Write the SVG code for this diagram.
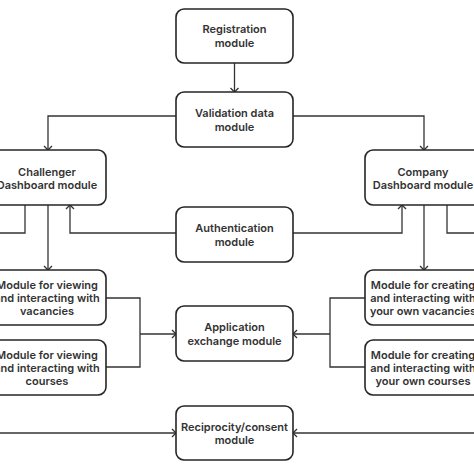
<svg xmlns="http://www.w3.org/2000/svg" width="474" height="474" viewBox="0 0 474 474">
<style>
.box{fill:#fff;stroke:#262626;stroke-width:1.6}
.t{font-family:Inter,"Noto Sans",sans-serif;font-weight:600;font-size:11px;fill:#333;text-anchor:middle}
.c{fill:none;stroke:#333;stroke-width:1.3}
</style>
<defs>
<marker id="ah" markerUnits="userSpaceOnUse" markerWidth="12" markerHeight="12" refX="10" refY="6" orient="auto">
<path d="M6,2 L10,6 L6,10" fill="none" stroke="#333" stroke-width="1.3"/>
</marker>
</defs>
<rect width="474" height="474" fill="#fff"/>
<g id="connectors">
<path class="c" d="M234.5,63 V92" marker-end="url(#ah)"/>
<path class="c" d="M176,116 H48 V150" marker-end="url(#ah)"/>
<path class="c" d="M293,116 H424 V150" marker-end="url(#ah)"/>
<path class="c" d="M176,233 H70 V205" marker-end="url(#ah)"/>
<path class="c" d="M293,233 H402 V205" marker-end="url(#ah)"/>
<path class="c" d="M25,205 V233 H-2"/>
<path class="c" d="M447,205 V233 H476"/>
<path class="c" d="M48,205 V270" marker-end="url(#ah)"/>
<path class="c" d="M424,205 V270" marker-end="url(#ah)"/>
<path class="c" d="M106,298 H140 V367 H106"/>
<path class="c" d="M140,334 H176" marker-end="url(#ah)"/>
<path class="c" d="M365,298 H330 V367 H365"/>
<path class="c" d="M330,334 H293" marker-end="url(#ah)"/>
<path class="c" d="M-2,433 H176" marker-end="url(#ah)"/>
<path class="c" d="M476,433 H293" marker-end="url(#ah)"/>
</g>
<g id="registration"><rect class="box" x="176" y="9" width="117" height="54" rx="8"/><text class="t" x="234.5" y="33">Registration</text><text class="t" x="234.5" y="47">module</text></g>
<g id="validation"><rect class="box" x="176" y="92" width="117" height="55" rx="8"/><text class="t" x="234.5" y="117">Validation data</text><text class="t" x="234.5" y="131">module</text></g>
<g id="challenger"><rect class="box" x="-12" y="150" width="118" height="55" rx="8"/><text class="t" x="47" y="176">Challenger</text><text class="t" x="47" y="189">Dashboard module</text></g>
<g id="company"><rect class="box" x="365" y="150" width="116" height="55" rx="8"/><text class="t" x="423" y="176">Company</text><text class="t" x="423" y="189">Dashboard module</text></g>
<g id="authentication"><rect class="box" x="176" y="207" width="117" height="55" rx="8"/><text class="t" x="234.5" y="232">Authentication</text><text class="t" x="234.5" y="246">module</text></g>
<g id="viewing-vacancies"><rect class="box" x="-12" y="270" width="118" height="55" rx="8"/><text class="t" x="47" y="289">Module for viewing</text><text class="t" x="47" y="302">and interacting with</text><text class="t" x="47" y="315">vacancies</text></g>
<g id="viewing-courses"><rect class="box" x="-12" y="340" width="118" height="55" rx="8"/><text class="t" x="47" y="359">Module for viewing</text><text class="t" x="47" y="372">and interacting with</text><text class="t" x="47" y="385">courses</text></g>
<g id="application"><rect class="box" x="176" y="306" width="117" height="55" rx="8"/><text class="t" x="234.5" y="331">Application</text><text class="t" x="234.5" y="345">exchange module</text></g>
<g id="creating-vacancies"><rect class="box" x="365" y="270" width="116" height="55" rx="8"/><text class="t" x="423" y="289">Module for creating</text><text class="t" x="423" y="302">and interacting with</text><text class="t" x="423" y="315">your own vacancies</text></g>
<g id="creating-courses"><rect class="box" x="365" y="340" width="116" height="55" rx="8"/><text class="t" x="423" y="359">Module for creating</text><text class="t" x="423" y="372">and interacting with</text><text class="t" x="423" y="385">your own courses</text></g>
<g id="reciprocity"><rect class="box" x="176" y="406" width="117" height="54" rx="8"/><text class="t" x="234.5" y="431">Reciprocity/consent</text><text class="t" x="234.5" y="444">module</text></g>
</svg>
